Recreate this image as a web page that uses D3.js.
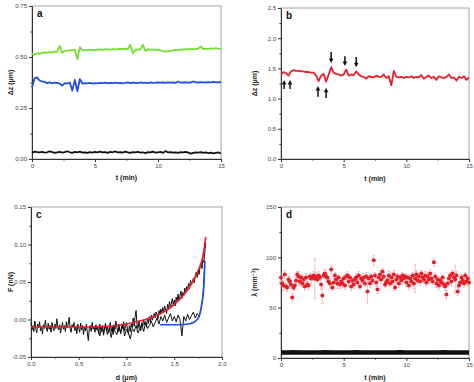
<!DOCTYPE html>
<html><head><meta charset="utf-8">
<script src="https://cdn.jsdelivr.net/npm/d3@7"></script>
<style>body{margin:0;background:#fff}svg{display:block}text{font-family:"Liberation Sans",Arial,sans-serif}</style>
</head><body><svg id="chart" width="474" height="382"></svg>
<script>
// ---------- Panel a: Δz vs t (three traces), sampled every 0.2 min ----------
const aGreen = [0.515,0.512,0.518,0.516,0.520,0.522,0.521,0.524,0.522,0.526,0.527,0.555,0.520,0.530,0.531,0.533,0.534,0.536,0.490,0.548,0.533,0.535,0.534,0.536,0.535,0.534,0.536,0.537,0.535,0.538,0.537,0.536,0.539,0.537,0.538,0.540,0.538,0.541,0.538,0.560,0.518,0.535,0.537,0.536,0.560,0.530,0.538,0.536,0.537,0.535,0.536,0.532,0.529,0.527,0.528,0.530,0.533,0.535,0.534,0.537,0.536,0.538,0.537,0.540,0.539,0.538,0.541,0.552,0.539,0.541,0.540,0.542,0.541,0.543,0.541,0.540];
const aBlue = [0.350,0.395,0.400,0.385,0.380,0.378,0.372,0.376,0.371,0.374,0.373,0.370,0.360,0.372,0.370,0.375,0.335,0.388,0.332,0.392,0.370,0.372,0.371,0.373,0.370,0.372,0.371,0.373,0.372,0.374,0.371,0.373,0.372,0.374,0.372,0.373,0.371,0.373,0.376,0.372,0.374,0.373,0.372,0.375,0.373,0.374,0.372,0.375,0.373,0.374,0.376,0.374,0.375,0.373,0.376,0.374,0.375,0.373,0.380,0.374,0.375,0.376,0.374,0.375,0.380,0.376,0.375,0.377,0.376,0.375,0.377,0.376,0.378,0.376,0.377,0.376];
const aBlack = [0.030,0.036,0.034,0.032,0.035,0.031,0.033,0.037,0.034,0.030,0.033,0.035,0.031,0.034,0.038,0.033,0.030,0.035,0.032,0.036,0.031,0.033,0.030,0.034,0.031,0.035,0.033,0.036,0.032,0.034,0.030,0.035,0.033,0.037,0.032,0.034,0.031,0.036,0.033,0.030,0.034,0.032,0.035,0.031,0.033,0.029,0.034,0.032,0.036,0.031,0.033,0.035,0.030,0.039,0.032,0.034,0.031,0.033,0.030,0.034,0.032,0.035,0.031,0.026,0.030,0.033,0.031,0.034,0.030,0.032,0.029,0.031,0.028,0.030,0.032,0.027];
const aYTicks = [0, 0.25, 0.5, 0.75];
const tTicks = [0, 5, 10, 15];

// ---------- Panel b: Δz vs t, sampled every 0.2 min ----------
const bRed = [1.40,1.44,1.42,1.38,1.45,1.47,1.46,1.46,1.45,1.45,1.44,1.44,1.43,1.43,1.38,1.29,1.38,1.41,1.28,1.40,1.52,1.43,1.41,1.40,1.38,1.40,1.48,1.38,1.40,1.39,1.45,1.40,1.37,1.36,1.33,1.37,1.36,1.35,1.38,1.36,1.36,1.40,1.34,1.37,1.22,1.46,1.36,1.35,1.36,1.34,1.36,1.35,1.37,1.34,1.36,1.35,1.39,1.33,1.36,1.38,1.34,1.36,1.31,1.37,1.35,1.34,1.36,1.40,1.34,1.35,1.30,1.36,1.34,1.37,1.31,1.35];
const bYTicks = [0, 0.5, 1.0, 1.5, 2.0, 2.5];
const arrowT    = [0.25, 0.72, 2.95, 3.6, 4.0, 5.1, 6.0];
const arrowFrom = [1.16, 1.16, 1.03, 1.01, 1.77, 1.70, 1.69];
const arrowTo   = [1.31, 1.31, 1.21, 1.18, 1.59, 1.54, 1.52];

// ---------- Panel c: F vs d ----------
const cBlack = [ // d = 0 .. 1.83 step 0.01
 -0.004,-0.014,-0.008,-0.016,-0.002,-0.012,-0.018,-0.006,-0.011,-0.003,
 -0.015,-0.009,-0.019,-0.007,-0.012,-0.001,-0.010,-0.016,-0.005,-0.013,
 -0.008,-0.017,-0.004,-0.011,-0.015,-0.006,-0.012,0.001,-0.009,-0.014,
 -0.007,-0.018,-0.010,-0.004,-0.013,-0.008,-0.016,-0.003,-0.011,-0.006,
 0.003,-0.012,-0.017,-0.007,-0.010,-0.004,-0.015,-0.009,-0.019,-0.006,
 -0.012,-0.017,-0.005,-0.014,-0.008,-0.020,-0.010,-0.015,-0.006,-0.018,
 -0.028,-0.012,-0.008,-0.016,-0.004,-0.013,-0.009,-0.017,-0.007,-0.014,
 -0.010,-0.019,-0.006,-0.013,-0.016,-0.008,-0.021,-0.011,-0.005,-0.015,
 -0.009,-0.018,-0.012,-0.004,-0.016,-0.010,-0.020,-0.007,-0.013,-0.002,
 -0.011,-0.017,-0.006,-0.014,-0.019,-0.008,-0.012,-0.003,-0.015,-0.009,
 -0.004,-0.013,-0.020,-0.008,-0.016,-0.006,-0.011,0.002,-0.009,0.004,
 0.012,-0.006,-0.012,-0.002,-0.010,-0.015,-0.004,-0.009,0.000,-0.007,
 -0.003,-0.010,0.002,-0.005,0.004,-0.003,0.006,-0.001,0.003,0.008,
 0.002,0.010,0.005,0.001,0.012,0.006,0.014,0.008,0.016,0.010,
 0.018,0.012,0.008,0.020,0.015,0.024,0.016,0.022,0.028,0.019,
 0.026,0.018,0.030,0.024,0.034,0.026,0.031,0.038,0.028,0.036,
 0.032,0.042,0.035,0.044,0.038,0.048,0.041,0.052,0.046,0.050,
 0.055,0.049,0.058,0.063,0.056,0.066,0.060,0.070,0.074,0.068,
 0.080,0.076,0.090,0.102];
const cBlack2 = [ // d = 0.70 .. 1.82 step 0.02
 -0.014,-0.022,-0.010,-0.018,-0.008,-0.020,-0.012,-0.024,-0.009,-0.016,
 -0.020,-0.011,-0.017,-0.006,-0.022,-0.013,-0.018,-0.026,-0.012,-0.016,
 -0.008,-0.018,-0.012,-0.006,-0.016,-0.004,-0.012,-0.008,-0.002,-0.010,
 -0.004,0.002,-0.006,0.004,-0.002,0.006,-0.004,0.002,0.008,-0.002,
 0.004,-0.003,0.006,0.000,-0.022,0.004,-0.002,0.007,0.000,0.005,
 0.010,0.002,0.008,0.004,0.014,0.030,0.072];
const cRedD = [0, 0.2, 0.4, 0.6, 0.8, 1.0, 1.1, 1.2, 1.3, 1.4, 1.5, 1.6, 1.7, 1.75, 1.8, 1.83];
const cRedF = [-0.010,-0.010,-0.010,-0.010,-0.009,-0.006,-0.003,0.000,0.005,0.011,0.020,0.033,0.052,0.065,0.084,0.110];
const cBlueD = [1.35, 1.45, 1.55, 1.65, 1.70, 1.74, 1.77, 1.79, 1.81, 1.82];
const cBlueF = [-0.007,-0.007,-0.007,-0.006,-0.004,0.000,0.008,0.022,0.045,0.078];
const cYTicks = [-0.05, 0, 0.05, 0.10, 0.15];
const cXTicks = [0, 0.5, 1.0, 1.5, 2.0];

// ---------- Panel d: λ vs t, sampled every 0.1 min ----------
const dLambda = [80,74,72,83,71,70,78,76,73,60,
 70,72,77,83,81,76,80,74,78,71,
 80,73,72,81,79,80,82,79,81,78,
 82,80,73,62,82,84,81,80,76,74,
 88,70,75,82,78,74,80,73,76,74,
 79,72,81,82,76,80,71,77,73,78,
 80,75,82,71,79,77,80,74,81,66,
 79,74,81,77,97,82,75,68,80,83,
 78,86,81,73,75,77,82,74,80,76,
 83,70,78,81,74,80,77,82,79,81,
 75,80,72,79,76,82,74,79,83,77,
 81,76,84,80,78,82,75,81,78,84,
 79,76,95,81,74,78,72,77,75,80,
 73,71,63,74,79,82,76,84,80,78,
 82,66,72,75,80,77,74,82,76,79,
 75];
const dErr = [4,3,5,4,3,4,3,5,4,4,
 3,4,3,3,5,4,3,4,3,4,
 4,3,4,3,5,3,4,20,4,3,
 4,3,5,8,3,4,3,4,3,5,
 4,3,4,3,4,5,3,4,3,4,
 3,4,3,4,5,3,4,3,4,3,
 4,3,4,3,4,3,4,3,4,12,
 3,4,3,4,5,3,4,4,3,4,
 4,3,4,3,4,3,4,3,5,3,
 4,3,4,3,4,3,4,3,4,3,
 4,3,4,3,4,3,5,14,4,3,
 3,4,3,4,3,4,3,4,4,4,
 4,3,4,3,4,3,4,3,4,3,
 3,4,4,3,4,3,4,3,4,14,
 4,4,3,4,3,4,4,3,4,3,
 4];
const dBlack = [5.5,5.5,5.6,5.5,5.4,5.5,5.5,5.6,5.5,5.5,5.4,5.5,5.6,5.5,5.5,5.5,5.4,5.5,5.5,5.6,5.5,5.5,5.5,5.4,5.5,5.5,5.6,5.5,5.5,5.5,5.5]; // every 0.5 min
const dYTicks = [0, 50, 100, 150];

// ---------------------------------------------------------------
const svg = d3.select('#chart');
const FONT = '"Liberation Sans",Arial,sans-serif';

function panel(o) {
  const x = d3.scaleLinear().domain(o.xd).range([o.l, o.r]);
  const y = d3.scaleLinear().domain(o.yd).range([o.b, o.t]);
  const g = svg.append('g');
  const minus = f => v => d3.format(f)(v).replace('\u2212', '-');
  g.append('rect').attr('x', o.l).attr('y', o.t).attr('width', o.r - o.l).attr('height', o.b - o.t)
    .attr('fill', 'none').attr('stroke', '#8a8a8a').attr('stroke-width', 0.8);
  g.append('g').attr('transform', `translate(${o.l},0)`)
    .call(d3.axisLeft(y).tickValues(o.yminor).tickSize(1.6).tickFormat(''))
    .call(s => s.select('.domain').remove());
  g.append('g').attr('transform', `translate(0,${o.b})`)
    .call(d3.axisBottom(x).tickValues(o.xminor).tickSize(1.6).tickFormat(''))
    .call(s => s.select('.domain').remove());
  const ya = g.append('g').attr('transform', `translate(${o.l},0)`)
    .call(d3.axisLeft(y).tickValues(o.yt).tickSize(3).tickSizeOuter(0).tickPadding(2).tickFormat(minus(o.yf)));
  const xa = g.append('g').attr('transform', `translate(0,${o.b})`)
    .call(d3.axisBottom(x).tickValues(o.xt).tickSize(3).tickSizeOuter(0).tickPadding(2).tickFormat(minus(o.xf)));
  [ya, xa].forEach(a => {
    a.select('.domain').attr('stroke', '#333').attr('stroke-width', 1);
    a.selectAll('.tick text').attr('font-size', 6).attr('fill', '#444').attr('font-family', FONT);
  });
  g.selectAll('.tick line').attr('stroke', '#333');
  g.append('text').attr('x', (o.l + o.r) / 2).attr('y', o.xlY).attr('text-anchor', 'middle')
    .attr('font-size', 7).attr('font-weight', 'bold').attr('fill', '#222').text(o.xlabel);
  const yl = g.append('text').attr('transform', `translate(${o.ylX},${(o.t + o.b) / 2}) rotate(-90)`)
    .attr('text-anchor', 'middle').attr('font-size', 7).attr('font-weight', 'bold').attr('fill', '#222');
  o.ylabel(yl);
  g.append('text').attr('x', o.l + 5).attr('y', o.t + 11).attr('font-size', 10).attr('font-weight', 'bold')
    .attr('fill', '#111').text(o.letter);
  return { x, y, g };
}

function linePath(g, xs, ys, x, y, color, w, curve) {
  const pts = xs.map((v, i) => [v, ys[i]]);
  g.append('path').datum(pts)
    .attr('d', d3.line().x(d => x(d[0])).y(d => y(d[1])).curve(curve || d3.curveLinear))
    .attr('fill', 'none').attr('stroke', color).attr('stroke-width', w).attr('stroke-linejoin', 'round');
}
const times = (n, step) => d3.range(n).map(i => i * step);

// ---- a ----
{
  const p = panel({ l: 32, r: 221, t: 6, b: 159, xd: [0, 15], yd: [0, 0.75],
    xt: tTicks, xminor: [2.5, 7.5, 12.5], yt: aYTicks, yminor: [0.125, 0.375, 0.625],
    yf: '.2f', xf: 'd', xlabel: 't (min)', xlY: 180, ylX: 13, letter: 'a',
    ylabel: t => t.text('\u0394z (\u03bcm)') });
  const ts = times(aGreen.length, 15 / (aGreen.length - 1));
  linePath(p.g, ts, aBlack, p.x, p.y, '#111', 1.8);
  linePath(p.g, ts, aBlue, p.x, p.y, '#1f4fe0', 1.8);
  linePath(p.g, ts, aGreen, p.x, p.y, '#74e02c', 1.8);
}
// ---- b ----
{
  const p = panel({ l: 281, r: 469, t: 8, b: 159, xd: [0, 15], yd: [0, 2.5],
    xt: tTicks, xminor: [2.5, 7.5, 12.5], yt: bYTicks, yminor: [0.25, 0.75, 1.25, 1.75, 2.25],
    yf: '.1f', xf: 'd', xlabel: 't (min)', xlY: 181, ylX: 257, letter: 'b',
    ylabel: t => t.text('\u0394z (\u03bcm)') });
  const ts = times(bRed.length, 15 / (bRed.length - 1));
  linePath(p.g, ts, bRed, p.x, p.y, '#e8202c', 1.8);
  arrowT.forEach((tv, i) => {
    const x0 = p.x(tv), y0 = p.y(arrowFrom[i]), y1 = p.y(arrowTo[i]);
    const dir = y1 < y0 ? -1 : 1;
    p.g.append('line').attr('x1', x0).attr('x2', x0).attr('y1', y0).attr('y2', y1 - dir * 3)
      .attr('stroke', '#111').attr('stroke-width', 1.5);
    p.g.append('path').attr('d', `M${x0 - 2.3},${y1 - dir * 4.5}L${x0 + 2.3},${y1 - dir * 4.5}L${x0},${y1}Z`).attr('fill', '#111');
  });
}
// ---- c ----
{
  const p = panel({ l: 31, r: 222, t: 207, b: 357, xd: [0, 2.0], yd: [-0.05, 0.15],
    xt: cXTicks, xminor: [0.25, 0.75, 1.25, 1.75], yt: cYTicks, yminor: [-0.025, 0.025, 0.075, 0.125],
    yf: '.2f', xf: '.1f', xlabel: 'd (\u03bcm)', xlY: 380, ylX: 13, letter: 'c',
    ylabel: t => t.text('F (nN)') });
  linePath(p.g, times(cBlack.length, 0.01), cBlack, p.x, p.y, '#111', 1.0);
  linePath(p.g, times(cBlack2.length, 0.02).map(v => v + 0.70), cBlack2, p.x, p.y, '#111', 1.0);
  linePath(p.g, cBlueD, cBlueF, p.x, p.y, '#2050e0', 1.7, d3.curveMonotoneX);
  linePath(p.g, cRedD, cRedF, p.x, p.y, '#e8202c', 1.7, d3.curveMonotoneX);
}
// ---- d ----
{
  const p = panel({ l: 281, r: 469, t: 207, b: 358, xd: [0, 15], yd: [0, 150],
    xt: tTicks, xminor: [2.5, 7.5, 12.5], yt: dYTicks, yminor: [25, 75, 125],
    yf: 'd', xf: 'd', xlabel: 't (min)', xlY: 380, ylX: 257, letter: 'd',
    ylabel: t => { t.text('\u03bb (mm'); t.append('tspan').attr('dy', -2.5).attr('font-size', 5).text('\u22121');
                   t.append('tspan').attr('dy', 2.5).text(')'); } });
  linePath(p.g, times(dBlack.length, 0.5), dBlack, p.x, p.y, '#111', 4.5);
  const ts = times(dLambda.length, 0.1);
  const eg = p.g.append('g').attr('stroke', '#f4a3aa').attr('stroke-width', 0.7);
  dLambda.forEach((v, i) => {
    const cx = p.x(ts[i]);
    eg.append('line').attr('x1', cx).attr('x2', cx).attr('y1', p.y(v - dErr[i])).attr('y2', p.y(v + dErr[i]));
    eg.append('line').attr('x1', cx - 1.2).attr('x2', cx + 1.2).attr('y1', p.y(v - dErr[i])).attr('y2', p.y(v - dErr[i]));
    eg.append('line').attr('x1', cx - 1.2).attr('x2', cx + 1.2).attr('y1', p.y(v + dErr[i])).attr('y2', p.y(v + dErr[i]));
  });
  p.g.append('g').selectAll('circle').data(dLambda).join('circle')
    .attr('cx', (v, i) => p.x(ts[i])).attr('cy', v => p.y(v)).attr('r', 2)
    .attr('fill', '#e41d26');
}
</script></body></html>
